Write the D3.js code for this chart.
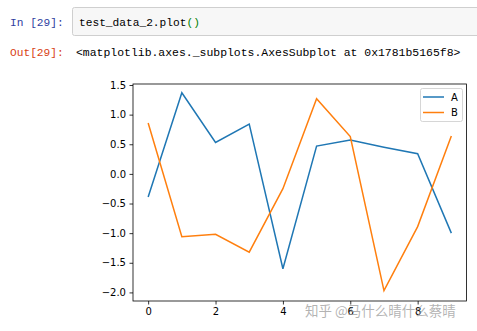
<!DOCTYPE html>
<html>
<head>
<meta charset="utf-8">
<script src="https://cdn.jsdelivr.net/npm/d3@7"></script>
<style>
  body { margin: 0; background: #fff; }
  svg { display: block; }
</style>
</head>
<body>
<script>
var xValues = [0, 1, 2, 3, 4, 5, 6, 7, 8, 9];
var seriesA = [-0.39, 1.37, 0.53, 0.84, -1.60, 0.47, 0.57, 0.45, 0.34, -1.00];
var seriesB = [0.86, -1.06, -1.02, -1.32, -0.25, 1.27, 0.63, -1.97, -0.89, 0.64];
var xTicks = [0, 2, 4, 6, 8];
var yTicks = [-2.0, -1.5, -1.0, -0.5, 0.0, 0.5, 1.0, 1.5];
var seriesNames = ['A', 'B'];
var seriesColors = ['#1f77b4', '#ff7f0e'];

var width = 477;
var height = 331;
var mono = '"Liberation Mono", "DejaVu Sans Mono", monospace';

var svg = d3.select('body').append('svg')
  .attr('width', width)
  .attr('height', height);

// notebook chrome
svg.append('rect')
  .attr('x', 72.5).attr('y', 7.5)
  .attr('width', 420).attr('height', 28)
  .attr('rx', 2)
  .attr('fill', '#f7f7f7')
  .attr('stroke', '#cfcfcf');

svg.append('text')
  .attr('x', 10).attr('y', 26)
  .attr('font-family', mono).attr('font-size', 11.2)
  .attr('fill', '#303f9f')
  .text('In [29]:');

var code = svg.append('text')
  .attr('x', 79).attr('y', 26)
  .attr('font-family', mono).attr('font-size', 11.2)
  .attr('fill', '#000');
code.append('tspan').text('test_data_2.plot');
code.append('tspan').attr('fill', '#008000').text('()');

svg.append('text')
  .attr('x', 10).attr('y', 56)
  .attr('font-family', mono).attr('font-size', 11.2)
  .attr('fill', '#d84315')
  .text('Out[29]:');

svg.append('text')
  .attr('x', 76).attr('y', 56)
  .attr('font-family', mono).attr('font-size', 11.45)
  .attr('fill', '#000')
  .text('<matplotlib.axes._subplots.AxesSubplot at 0x1781b5165f8>');

// axes box
var plotLeft = 133, plotRight = 466.5, plotTop = 84, plotBottom = 301;

var x = d3.scaleLinear().domain([-0.45, 9.45]).range([plotLeft, plotRight]);
var y = d3.scaleLinear().domain([-2.145, 1.517]).range([plotBottom, plotTop]);

var sans = '"DejaVu Sans", sans-serif';

var xAxis = svg.append('g')
  .attr('transform', 'translate(0,' + plotBottom + ')')
  .call(d3.axisBottom(x).tickValues(xTicks).tickSize(3.5).tickPadding(3.5)
    .tickFormat(d3.format('d')));

var yAxis = svg.append('g')
  .attr('transform', 'translate(' + plotLeft + ',0)')
  .call(d3.axisLeft(y).tickValues(yTicks).tickSize(3.5).tickPadding(3.5)
    .tickFormat(function(d) { return d3.format('.1f')(d).replace('-', '\u2212'); }));

[xAxis, yAxis].forEach(function(g) {
  g.select('.domain').remove();
  g.selectAll('line').attr('stroke', '#000').attr('stroke-width', 0.8);
  g.selectAll('text')
    .attr('font-family', sans)
    .attr('font-size', 10)
    .attr('fill', '#000');
});

var line = d3.line()
  .x(function(d, i) { return x(xValues[i]); })
  .y(function(d) { return y(d); });

[seriesA, seriesB].forEach(function(values, i) {
  svg.append('path')
    .datum(values)
    .attr('d', line)
    .attr('fill', 'none')
    .attr('stroke', seriesColors[i])
    .attr('stroke-width', 1.5);
});

svg.append('rect')
  .attr('x', plotLeft).attr('y', plotTop)
  .attr('width', plotRight - plotLeft).attr('height', plotBottom - plotTop)
  .attr('fill', 'none')
  .attr('stroke', '#000')
  .attr('stroke-width', 0.8);

// legend
var legend = svg.append('g').attr('transform', 'translate(420,88)');
legend.append('rect')
  .attr('x', 0.5).attr('y', 0.5)
  .attr('width', 42).attr('height', 33)
  .attr('rx', 2)
  .attr('fill', '#fff')
  .attr('fill-opacity', 0.8)
  .attr('stroke', '#cccccc')
  .attr('stroke-width', 0.8);

seriesNames.forEach(function(name, i) {
  var ly = 9 + i * 15.5;
  legend.append('line')
    .attr('x1', 3).attr('x2', 24)
    .attr('y1', ly).attr('y2', ly)
    .attr('stroke', seriesColors[i])
    .attr('stroke-width', 1.5);
  legend.append('text')
    .attr('x', 31).attr('y', ly + 3.6)
    .attr('font-family', sans)
    .attr('font-size', 10)
    .attr('fill', '#000')
    .text(name);
});

// watermark
svg.append('text')
  .attr('x', 305).attr('y', 316)
  .attr('font-family', '"Noto Sans CJK SC", sans-serif')
  .attr('font-size', 13.5)
  .attr('fill', '#9a9a9a')
  .attr('fill-opacity', 0.75)
  .text('知乎 @马什么晴什么蔡晴');
</script>
</body>
</html>
